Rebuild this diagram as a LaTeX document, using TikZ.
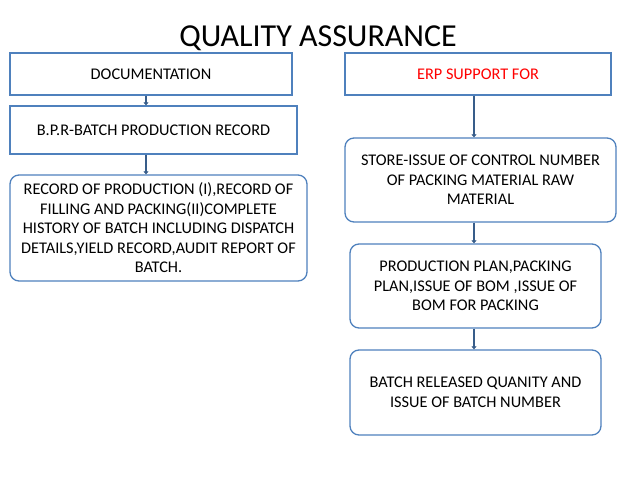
\documentclass[tikz,border=0pt]{standalone}
\usepackage{fontspec}
\setmainfont{Carlito}
\usetikzlibrary{arrows.meta}
\definecolor{bd}{RGB}{79,129,189}
\definecolor{ar}{RGB}{56,93,138}
\begin{document}
\begin{tikzpicture}[x=1pt,y=-1pt,
 box/.style={draw=bd,line width=1.3pt,fill=white,align=center,font=\fontsize{16.3}{19.5}\selectfont,inner sep=2pt},
 rbox/.style={box,rounded corners=9pt},
 con/.style={draw=ar,line width=2.2pt,-{Triangle[length=3pt,width=5pt]}}]
\useasboundingbox (0,0) rectangle (638,478);
\node[font=\fontsize{32}{36}\selectfont] (t) at (318,38) {QUALITY ASSURANCE};
\node[box,minimum width=282pt,minimum height=42pt] (doc) at (151,74) {DOCUMENTATION};
\node[box,minimum width=266pt,minimum height=42pt,text=red] (erp) at (478,74) {ERP SUPPORT FOR};
\node[box,minimum width=287pt,minimum height=48pt] (bpr) at (153.5,130) {B.P.R-BATCH PRODUCTION RECORD};
\node[rbox,minimum width=297pt,minimum height=106pt] (rec) at (158.5,228) {RECORD OF PRODUCTION (I),RECORD OF\\FILLING AND PACKING(II)COMPLETE\\HISTORY OF BATCH INCLUDING DISPATCH\\DETAILS,YIELD RECORD,AUDIT REPORT OF\\BATCH.};
\node[rbox,minimum width=271pt,minimum height=84pt] (st) at (480.5,180) {STORE-ISSUE OF CONTROL NUMBER\\OF PACKING MATERIAL RAW\\MATERIAL};
\node[rbox,minimum width=251pt,minimum height=84pt] (pp) at (475.5,286) {PRODUCTION PLAN,PACKING\\PLAN,ISSUE OF BOM ,ISSUE OF\\BOM FOR PACKING};
\node[rbox,minimum width=251pt,minimum height=85pt] (br) at (475.5,392.5) {BATCH RELEASED QUANITY AND\\ISSUE OF BATCH NUMBER};
\draw[con] (doc.south -| 146,0) -- (bpr.north -| 146,0);
\draw[con] (bpr.south -| 146,0) -- (rec.north -| 146,0);
\draw[con] (erp.south -| 474,0) -- (st.north -| 474,0);
\draw[con] (st.south -| 474,0) -- (pp.north -| 474,0);
\draw[con] (pp.south -| 474,0) -- (br.north -| 474,0);
\end{tikzpicture}
\end{document}
